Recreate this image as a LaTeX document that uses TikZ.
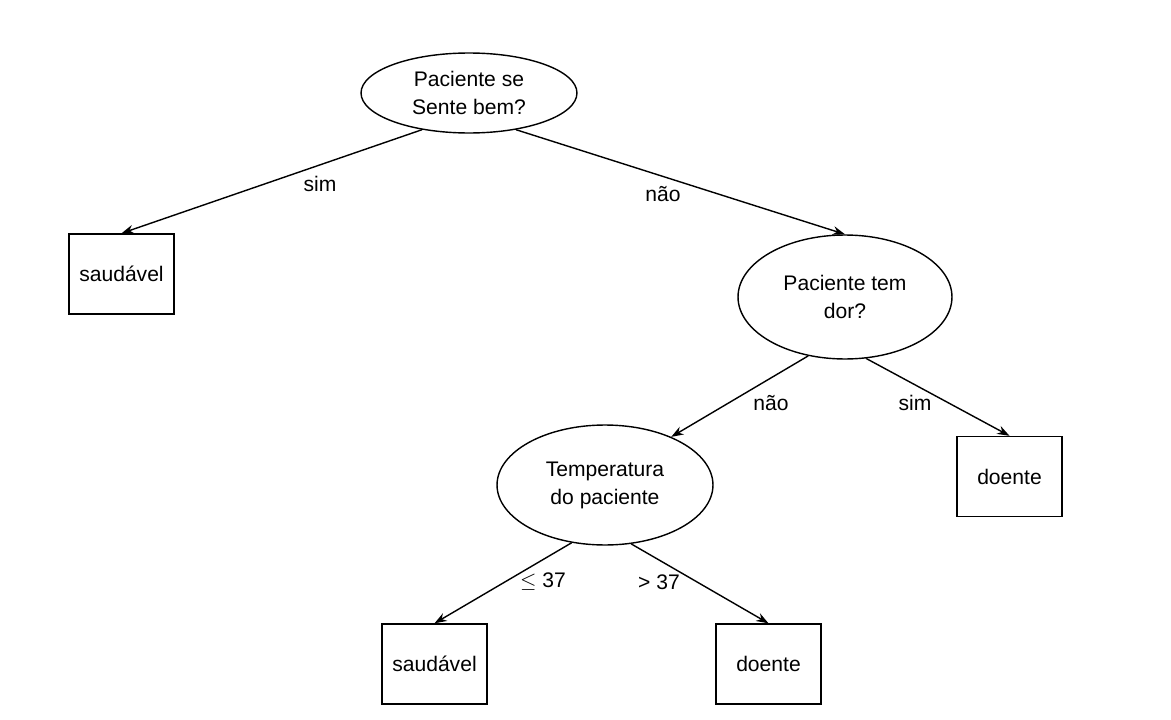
\documentclass[tikz,border=0pt]{standalone}
\usepackage{fontspec}
\setmainfont{Liberation Sans}
\usetikzlibrary{shapes.geometric,arrows.meta}
\begin{document}
\begin{tikzpicture}[x=0.02cm,y=-0.02cm,
  every node/.style={font=\fontsize{12}{16}\selectfont},
  q/.style={draw,ellipse,line width=0.8pt,inner sep=0pt,align=center},
  leaf/.style={draw,rectangle,line width=0.8pt,minimum width=2.1cm,minimum height=1.6cm,inner sep=0pt},
  edge/.style={line width=0.8pt,-{Stealth[length=7pt,width=5pt]}},
  lab/.style={inner sep=1pt}]
\useasboundingbox (0,0) rectangle (1171,720);
\node[q,minimum width=4.32cm,minimum height=1.6cm] (e1) at (469,93) {Paciente se\\Sente bem?};
\node[q,minimum width=4.28cm,minimum height=2.48cm] (e2) at (845,297) {Paciente tem\\dor?};
\node[q,minimum width=4.32cm,minimum height=2.4cm] (e3) at (605,485) {Temperatura\\do paciente};
\node[leaf] (l1) at (121.5,274) {saudável};
\node[leaf] (l2) at (1009.5,476.5) {doente};
\node[leaf] (l3) at (434.5,664) {saudável};
\node[leaf] (l4) at (768.5,664) {doente};
\draw[edge] (e1.218) -- (l1.north);
\draw[edge] (e1.322) -- (e2.north);
\draw[edge] (e2.238) -- (e3.36);
\draw[edge] (e2.289) -- (l2.north);
\draw[edge] (e3.240) -- (l3.north);
\draw[edge] (e3.294) -- (l4.north);
\node[lab] (t1) at (320,184) {sim};
\node[lab] (t2) at (663,194) {não};
\node[lab] (t3) at (771,403) {não};
\node[lab] (t4) at (915,403) {sim};
\node[lab] (t5) at (543,582) {$\leq$ 37};
\node[lab] (t6) at (659,582) {> 37};
\end{tikzpicture}
\end{document}
